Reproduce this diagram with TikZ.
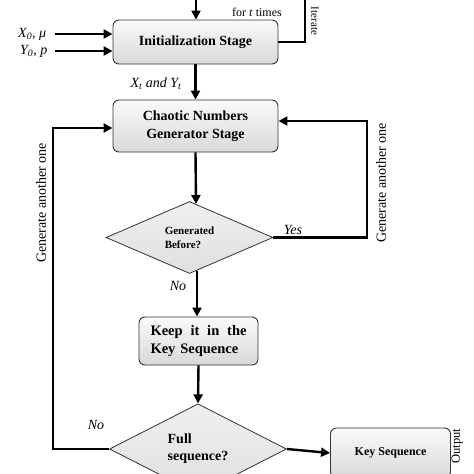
\documentclass[tikz,border=0pt]{standalone}
\usepackage{fontspec}
\setmainfont{Liberation Serif}
\usetikzlibrary{shapes.geometric,arrows.meta}
\begin{document}
\begin{tikzpicture}[x=1pt,y=-1pt,
  box/.style={draw=black!80,line width=0.9pt,rounded corners=6pt,top color=gray!4,bottom color=gray!30,font=\bfseries,align=center,inner sep=0pt},
  dia/.style={draw=black!80,line width=0.8pt,diamond,top color=gray!12,bottom color=gray!25,inner sep=0pt,font=\bfseries,align=left},
  arr/.style={line width=2.4pt,-{Triangle[length=9pt,width=9pt]}},
  lab/.style={font=\itshape\fontsize{14}{16}\selectfont,inner sep=0pt}]
\useasboundingbox (0,0) rectangle (474,474);
% nodes
\node[box,minimum width=165pt,minimum height=44pt,font=\bfseries\fontsize{14}{16}\selectfont] (init) at (195.5,42) {Initialization Stage};
\node[box,minimum width=165pt,minimum height=52pt,font=\bfseries\fontsize{14}{18}\selectfont] (chaos) at (195.5,126) {Chaotic Numbers\\Generator Stage};
\node[dia,minimum width=167pt,minimum height=72pt,font=\bfseries\fontsize{11}{14}\selectfont] (gen) at (189.5,237.5) {Generated\\Before?};
\node[box,minimum width=119pt,minimum height=48pt,align=left,text width=96pt,font=\bfseries\fontsize{14.5}{18}\selectfont] (keep) at (198.5,341) {Keep\hfill it\hfill in\hfill the\\Key Sequence};
\node[dia,minimum width=177pt,minimum height=82pt,align=left,font=\bfseries\fontsize{14}{17}\selectfont] (full) at (198,449) {Full\\sequence?};
\node[box,minimum width=120pt,minimum height=50pt,font=\bfseries\fontsize{12}{14}\selectfont] (ks) at (390.5,453) {Key Sequence};
% coordinates
\coordinate (tl) at (196,-6);
\coordinate (tr) at (305,-6);
\coordinate (in1) at (55,34);
\coordinate (in2) at (55,51);
\coordinate (r1) at (367,121);
\coordinate (l1) at (53,128);
\coordinate (c1) at (196,204);
\coordinate (c2) at (197,271);
% connectors
\draw[arr] (init.east) -| (tr) -- (tl) -- (tl |- init.north);
\draw[arr] (in1) -- (in1 -| init.west);
\draw[arr] (in2) -- (in2 -| init.west);
\draw[arr] (init.south) -- (chaos.north);
\draw[arr] (chaos.south) -- (c1);
\draw[arr] (gen.east) -| (r1) -- (r1 -| chaos.east);
\draw[arr] (c2) -- (c2 |- keep.north);
\draw[arr] (keep.south) -- (full.north);
\draw[arr] (full.west) -| (l1) -- (l1 -| chaos.west);
\draw[arr] (full.east) -- (ks.west);
% labels
\node[lab,anchor=west] (lx) at (18,34) {X\textsubscript{0}, μ};
\node[lab,anchor=west] (ly) at (20,51) {Y\textsubscript{0}, p};
\node[lab] (lxt) at (156,84) {X\textsubscript{t} and Y\textsubscript{t}};
\node[inner sep=0pt,font=\fontsize{12}{14}\selectfont] (lft) at (257,12) {for \textit{t} times};
\node[inner sep=0pt,rotate=-90,font=\fontsize{11}{13}\selectfont] (lit) at (315,21) {Iterate};
\node[lab] (lyes) at (293,230) {Yes};
\node[lab] (lno1) at (178,286) {No};
\node[lab] (lno2) at (96,425) {No};
\node[inner sep=0pt,rotate=90,font=\fontsize{14}{16}\selectfont] (lga1) at (41,203) {Generate another one};
\node[inner sep=0pt,rotate=90,font=\fontsize{14}{16}\selectfont] (lga2) at (381,183) {Generate another one};
\node[inner sep=0pt,rotate=90,font=\fontsize{12.5}{14}\selectfont] (lout) at (457,446) {Output};
\end{tikzpicture}
\end{document}
